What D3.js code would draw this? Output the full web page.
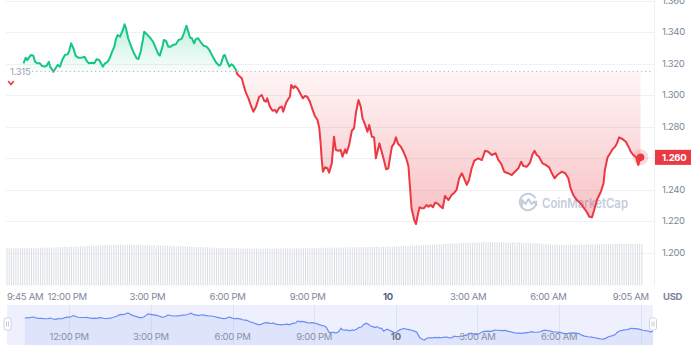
<!DOCTYPE html>
<html><head><meta charset="utf-8">
<script src="https://cdn.jsdelivr.net/npm/d3@7"></script>
<style>
html,body{margin:0;padding:0;background:#fff;overflow:hidden;}
svg{display:block;font-family:Inter,"Noto Sans",sans-serif;}
</style></head><body>
<svg id="chart" width="696" height="353"></svg>
<script>
// ---------- DATA ----------
const startTime = new Date(2023, 1, 9, 9, 45); // 9:45 AM, day 9
const axisSpanMinutes = 1450;
const priceMinutes = [
 37,42,46,49,54,59,63,69,74,78,84,89,94,97,104,109,114,119,124,130,136,139,144,149,154,160,168,174,179,184,190,196,201,207,211,215,220,226,231,236,241,244,248,254,
 260,264,267,272,278,285,291,295,300,305,308,314,321,328,334,340,343,349,352,357,362,367,373,379,385,392,397,403,407,411,415,420,424,429,435,441,448,454,462,469,476,480,486,489,493,499,504,508,514,517,523,
 527,532,536,542,547,553,559,566,572,577,581,584,590,596,602,605,611,617,620,626,631,635,638,643,646,652,658,664,669,674,680,686,691,697,701,704,706,709,714,719,723,729,734,738,744,749,753,759,
 762,768,774,779,783,789,794,798,804,809,813,819,824,828,836,841,846,851,856,860,864,869,873,878,884,890,896,901,905,908,914,918,922,926,931,936,942,946,951,956,961,966,972,978,983,
 991,998,1004,1009,1015,1021,1026,1032,1037,1043,1049,1058,1066,1073,1080,1088,1097,1103,1109,1116,1125,1133,1140,1148,1154,1159,1167,1174,1179,1184,1189,1194,1202,1209,1217,1223,1229,
 1235,1245,1253,1260,1265,1271,1279,1286,1294,1301,1307,1313,1318,1324,1333,1339,1342,1348,1354,1359,1365,1369,1374,1382,1389,1395,1400,1406,1412,1417,1422
];
const prices = [
 1.3201,1.3237,1.3222,1.3237,1.3254,1.3250,1.3211,1.3201,1.3201,1.3186,1.3180,1.3186,1.3211,1.3180,1.3148,1.3170,1.3191,1.3180,1.3222,1.3254,1.3258,1.3275,1.3328,1.3297,1.3250,1.3237,1.3237,1.3243,1.3216,1.3201,1.3205,1.3201,1.3227,1.3222,1.3201,1.3180,1.3201,1.3211,1.3237,1.3275,1.3307,1.3349,1.3381,1.3370,
 1.3413,1.3449,1.3424,1.3360,1.3313,1.3265,1.3233,1.3229,1.3275,1.3349,1.3402,1.3385,1.3364,1.3338,1.3297,1.3258,1.3250,1.3307,1.3349,1.3343,1.3307,1.3307,1.3318,1.3322,1.3349,1.3356,1.3392,1.3440,1.3402,1.3364,1.3360,1.3328,1.3356,1.3360,1.3335,1.3313,1.3307,1.3286,1.3243,1.3208,1.3186,1.3195,1.3250,1.3254,1.3222,1.3180,1.3195,1.3186,1.3159,1.3131,1.3116,
 1.3106,1.3053,1.3017,1.2979,1.2937,1.2894,1.2926,1.2989,1.3000,1.2964,1.2957,1.2979,1.2926,1.2900,1.2905,1.2888,1.2919,1.2926,1.2894,1.2947,1.2973,1.2989,1.3064,1.3043,1.3057,1.3043,1.3011,1.2979,1.2994,1.2989,1.2957,1.2905,1.2867,1.2841,1.2789,1.2693,1.2608,1.2513,1.2541,1.2535,1.2507,1.2566,1.2735,1.2651,1.2646,1.2651,1.2608,1.2655,
 1.2630,1.2683,1.2773,1.2789,1.2884,1.2968,1.2926,1.2852,1.2810,1.2767,1.2810,1.2735,1.2731,1.2598,1.2693,1.2640,1.2587,1.2528,1.2535,1.2608,1.2672,1.2693,1.2731,1.2689,1.2672,1.2640,1.2598,1.2549,1.2397,1.2281,1.2206,1.2181,1.2238,1.2287,1.2281,1.2281,1.2302,1.2291,1.2302,1.2287,1.2316,1.2312,1.2295,1.2281,1.2359,
 1.2333,1.2365,1.2380,1.2397,1.2471,1.2503,1.2471,1.2429,1.2460,1.2535,1.2583,1.2598,1.2587,1.2646,1.2640,1.2619,1.2630,1.2587,1.2566,1.2513,1.2503,1.2492,1.2513,1.2535,1.2576,1.2549,1.2545,1.2570,1.2619,1.2646,1.2619,1.2608,1.2566,1.2556,1.2541,1.2503,1.2471,
 1.2492,1.2513,1.2503,1.2471,1.2408,1.2365,1.2333,1.2316,1.2287,1.2259,1.2227,1.2223,1.2270,1.2333,1.2386,1.2439,1.2524,1.2604,1.2630,1.2655,1.2672,1.2693,1.2731,1.2719,1.2703,1.2672,1.2640,1.2619,1.2604,1.2556,1.2604
];
const baselinePrice = 1.315;
const baselineLabel = "1.315";
const lastPriceLabel = "1.260";
const volumeStepMinutes = 5;
const volumes = [
 166,167,166,168,167,166,167,168,167,166,167,168,
 167,168,167,169,168,167,168,169,168,169,170,169,
 170,171,172,171,172,173,172,173,174,173,174,175,
 176,177,176,178,177,178,179,178,179,180,179,180,
 181,180,181,182,181,180,181,182,181,180,181,180,
 180,179,180,179,178,179,178,177,178,177,178,177,
 177,176,175,176,175,174,175,174,173,174,173,172,
 172,171,170,171,170,169,170,169,168,169,168,167,
 167,166,167,166,165,166,165,166,165,164,165,164,
 165,164,165,164,165,164,163,164,163,164,165,164,
 164,165,164,165,164,165,166,165,164,165,166,165,
 165,166,165,166,167,166,167,166,167,168,167,168,
 168,167,168,169,168,169,168,169,170,169,170,169,
 170,169,170,171,170,171,170,171,172,171,172,171,
 172,173,172,173,174,173,174,175,174,175,176,175,
 176,177,178,177,178,179,178,179,180,181,180,181,
 182,183,184,183,185,186,185,186,187,188,187,188,
 189,190,189,190,191,190,191,192,191,192,193,192,
 193,192,193,192,193,192,193,192,191,192,191,192,
 192,191,192,191,190,191,190,189,190,189,188,187,
 186,185,184,183,182,181,182,181,180,181,180,181,
 181,182,181,182,181,182,183,182,183,182,183,182,
 183,184,183,184,185,184,185,184,185,186,185,186,
 186,185,186,185,186,185,186,185,186,185
];
const yTicks = [1.200,1.220,1.240,1.260,1.280,1.300,1.320,1.340,1.360];
const xTickMinutes = [0,135,315,495,675,855,1035,1215,1400];
const xTickLabels = ["9:45 AM","12:00 PM","3:00 PM","6:00 PM","9:00 PM","10","3:00 AM","6:00 AM","9:05 AM"];
const navTickMinutes = [135,315,495,675,855,1035,1215,1395];
const navTickLabels = ["12:00 PM","3:00 PM","6:00 PM","9:00 PM","10","3:00 AM","6:00 AM",""];
const currencyLabel = "USD";
const watermark = "CoinMarketCap";

// ---------- HELPERS ----------
const at = m => new Date(startTime.getTime() + m * 60000);
const series = priceMinutes.map((m, i) => ({t: at(m), v: prices[i]}));
const GREEN = "#16c784", RED = "#ea3943";
const FS = 9.5, LS = -0.3;

const svg = d3.select("#chart");
const defs = svg.append("defs");

// ---------- SCALES ----------
const x = d3.scaleTime().domain([startTime, at(axisSpanMinutes)]).range([7, 653]);
const y = d3.scaleLinear().domain([1.2, 1.36]).range([252.5, 0.5]);
const yVol = d3.scaleLinear().domain([0, 200]).range([285.5, 240.5]);
const lastMinute = priceMinutes[priceMinutes.length - 1];
const xNav = d3.scaleTime().domain([startTime, at(lastMinute)]).range([8, 653]);
const yNav = d3.scaleLinear().domain(d3.extent(prices)).range([340, 313]);

const yBase = y(baselinePrice);
const last = series[series.length - 1];
const lastY = y(last.v);

// ---------- GRID ----------
svg.append("g").selectAll("line").data(yTicks).join("line")
  .attr("x1", 6).attr("x2", 654.5)
  .attr("y1", d => Math.round(y(d)) + 0.5).attr("y2", d => Math.round(y(d)) + 0.5)
  .attr("stroke", "#eff2f5").attr("stroke-width", 1);
svg.append("line").attr("x1", 654.5).attr("x2", 654.5).attr("y1", 0).attr("y2", 286)
  .attr("stroke", "#eff2f5");

// ---------- VOLUME ----------
svg.append("g").selectAll("rect").data(volumes).join("rect")
  .attr("x", (d, i) => x(at(i * volumeStepMinutes)) - 0.5)
  .attr("width", 1)
  .attr("y", d => yVol(d))
  .attr("height", d => yVol(0) - yVol(d))
  .attr("fill", "#d9dde4");

// ---------- WATERMARK ----------
const wm = svg.append("g");
wm.append("path")
  .attr("d", d3.arc()({innerRadius: 7.2, outerRadius: 9.2, startAngle: 0.45 * Math.PI, endAngle: 2.35 * Math.PI}))
  .attr("transform", "translate(528,202)").attr("fill", "#c5cddd");
wm.append("path")
  .attr("d", "M522,206 L522,200 L525.5,204 L528.5,199 L531.5,204 L534,201.5 L536.5,205")
  .attr("fill", "none").attr("stroke", "#c5cddd").attr("stroke-width", 2).attr("stroke-linejoin", "round").attr("stroke-linecap", "round");
wm.append("text").attr("x", 542).attr("y", 207.5)
  .attr("font-size", 13).attr("font-weight", 600).attr("fill", "#c5cddd")
  .attr("textLength", 86).attr("lengthAdjust", "spacingAndGlyphs")
  .text(watermark);

// ---------- AREAS ----------
const gGreen = defs.append("linearGradient").attr("id", "gGreen")
  .attr("gradientUnits", "userSpaceOnUse").attr("x1", 0).attr("x2", 0)
  .attr("y1", y(d3.max(prices))).attr("y2", yBase);
gGreen.append("stop").attr("offset", 0).attr("stop-color", GREEN).attr("stop-opacity", 0.26);
gGreen.append("stop").attr("offset", 1).attr("stop-color", GREEN).attr("stop-opacity", 0.03);
const gRed = defs.append("linearGradient").attr("id", "gRed")
  .attr("gradientUnits", "userSpaceOnUse").attr("x1", 0).attr("x2", 0)
  .attr("y1", yBase).attr("y2", y(d3.min(prices)));
gRed.append("stop").attr("offset", 0).attr("stop-color", RED).attr("stop-opacity", 0.05);
gRed.append("stop").attr("offset", 1).attr("stop-color", RED).attr("stop-opacity", 0.32);

defs.append("clipPath").attr("id", "above").append("rect")
  .attr("x", 0).attr("y", -10).attr("width", 696).attr("height", yBase + 10);
defs.append("clipPath").attr("id", "below").append("rect")
  .attr("x", 0).attr("y", yBase).attr("width", 696).attr("height", 353);

const area = d3.area().x(d => x(d.t)).y0(yBase).y1(d => y(d.v));
const line = d3.line().x(d => x(d.t)).y(d => y(d.v));

svg.append("path").datum(series).attr("d", area).attr("fill", "url(#gGreen)").attr("clip-path", "url(#above)");
svg.append("path").datum(series).attr("d", area).attr("fill", "url(#gRed)").attr("clip-path", "url(#below)");

// baseline
svg.append("line").attr("x1", 32).attr("x2", 653).attr("y1", yBase).attr("y2", yBase)
  .attr("stroke", "#a7b1c2").attr("stroke-width", 1).attr("stroke-dasharray", "1.2,3");
svg.append("text").attr("x", 10).attr("y", yBase + 3.6)
  .attr("font-size", 9.5).attr("letter-spacing", LS).attr("fill", "#98a1b3").text(baselineLabel);
svg.append("path").attr("d", "M8.5,81.5 L11,84.5 L13.5,81.5")
  .attr("fill", "none").attr("stroke", RED).attr("stroke-width", 1.6).attr("stroke-linecap", "round");

// lines
svg.append("path").datum(series).attr("d", line).attr("fill", "none").attr("stroke", GREEN)
  .attr("stroke-width", 2).attr("stroke-linejoin", "round").attr("clip-path", "url(#above)");
svg.append("path").datum(series).attr("d", line).attr("fill", "none").attr("stroke", RED)
  .attr("stroke-width", 2).attr("stroke-linejoin", "round").attr("clip-path", "url(#below)");

// end marker
svg.append("circle").attr("cx", x(last.t)).attr("cy", lastY).attr("r", 8).attr("fill", RED).attr("fill-opacity", 0.18);
svg.append("circle").attr("cx", x(last.t)).attr("cy", lastY).attr("r", 3.8).attr("fill", RED);

// ---------- Y AXIS (right) ----------
const visibleYTicks = yTicks.filter(d => Math.abs(y(d) - lastY) > 9);
svg.append("g").selectAll("text").data(visibleYTicks).join("text")
  .attr("x", 662).attr("y", d => y(d)).attr("dy", "0.35em")
  .attr("font-size", FS).attr("letter-spacing", LS).attr("fill", "#7d8698")
  .text(d => d3.format(".3f")(d));
svg.append("rect").attr("x", 655).attr("y", lastY - 7.5).attr("width", 36).attr("height", 15).attr("fill", RED);
svg.append("text").attr("x", 662).attr("y", lastY).attr("dy", "0.36em")
  .attr("font-size", FS).attr("letter-spacing", LS).attr("font-weight", 700).attr("fill", "#fff").text(lastPriceLabel);

// ---------- X AXIS ----------
svg.append("g").selectAll("text").data(xTickMinutes).join("text")
  .attr("x", d => x(at(d)))
  .attr("y", 299.5)
  .attr("text-anchor", (d, i) => i === 0 ? "start" : "middle")
  .attr("font-size", FS)
  .attr("letter-spacing", LS)
  .attr("font-weight", (d, i) => xTickLabels[i] === "10" ? 700 : 400)
  .attr("fill", (d, i) => xTickLabels[i] === "10" ? "#58667e" : "#7d8698")
  .text((d, i) => xTickLabels[i]);
svg.append("text").attr("x", 663).attr("y", 299.5).attr("font-size", FS).attr("letter-spacing", LS).attr("font-weight", 700)
  .attr("fill", "#7d8698").text(currencyLabel);

// ---------- NAVIGATOR ----------
const nav = svg.append("g");
nav.append("rect").attr("x", 7).attr("y", 305).attr("width", 646).attr("height", 40).attr("fill", "#eef1fd");
nav.selectAll("line").data(navTickMinutes).join("line")
  .attr("x1", d => Math.round(xNav(at(d))) + 0.5).attr("x2", d => Math.round(xNav(at(d))) + 0.5)
  .attr("y1", 305).attr("y2", 345).attr("stroke", "#dce2f5");
nav.append("path").datum(series)
  .attr("d", d3.area().x(d => xNav(d.t)).y0(345).y1(d => yNav(d.v)))
  .attr("fill", "#6c8cf5").attr("fill-opacity", 0.12);
nav.append("path").datum(series)
  .attr("d", d3.line().x(d => xNav(d.t)).y(d => yNav(d.v)))
  .attr("fill", "none").attr("stroke", "#6c8cf5").attr("stroke-width", 1.2);
nav.selectAll("text").data(navTickMinutes).join("text")
  .attr("x", d => xNav(at(d))).attr("y", 340).attr("text-anchor", "middle")
  .attr("font-size", FS).attr("letter-spacing", LS)
  .attr("font-weight", (d, i) => navTickLabels[i] === "10" ? 700 : 400)
  .attr("fill", (d, i) => navTickLabels[i] === "10" ? "#6b7489" : "#8990a3")
  .text((d, i) => navTickLabels[i]);
[7.5, 653].forEach(cx => {
  nav.append("rect").attr("x", cx - 3.5).attr("y", 318).attr("width", 7).attr("height", 12).attr("rx", 2)
    .attr("fill", "#fff").attr("stroke", "#cfd5e0");
  [-1, 1].forEach(o => nav.append("line").attr("x1", cx + o).attr("x2", cx + o).attr("y1", 321.5).attr("y2", 326.5)
    .attr("stroke", "#b5bccb").attr("stroke-width", 0.8));
});
</script>
</body></html>
